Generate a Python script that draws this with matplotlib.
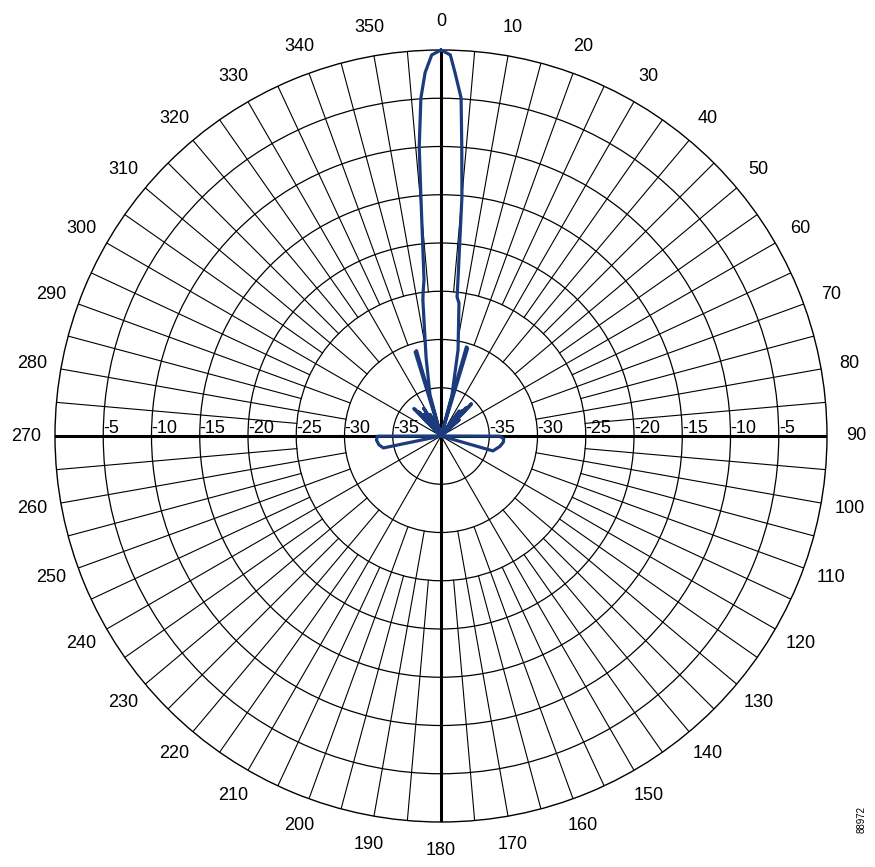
import numpy as np
import matplotlib
matplotlib.use("Agg")
import matplotlib.pyplot as plt

# antenna pattern, compass degrees (clockwise from north) and dB
angles = [0, 1.4, 2.2, 3.4, 4.1, 5.0, 6.2, 6.6, 7.7, 11.2, 15.0, 15.6,
          15.9, 16.9, 17.4,
          35.6, 36.0, 36.6, 37.0, 39.1, 39.4, 40.0, 40.3, 41.1, 41.4, 42.0, 42.3,
          42.9, 43.1, 43.9, 44.2, 47.6, 48.2, 48.8,
          90.0, 90.2, 92.5, 95.5, 100.0, 106.0, 106.5,
          180.0,
          257.8, 258.3, 262.0, 266.4, 269.8, 270.0,
          314.9, 315.1, 315.9, 316.1, 317.0, 317.2, 318.0, 318.2,
          321.5, 322.0, 322.5, 327.5, 327.7, 328.4, 328.6, 332.5, 333.0, 333.5,
          342.6, 342.9, 344.0, 344.5,
          345.0, 349.25, 352.4, 352.9, 353.8, 355.2, 355.7, 356.6, 357.5,
          358.6, 360]
gain_db = [0.0, -0.5, -2.3, -4.9, -9.9, -15.1, -23.7, -25.5, -26.1, -30.9, -35.6, -40,
           -30.4, -30.5, -40,
           -40, -36.8, -36.9, -40, -40, -36.6, -36.7, -40, -40, -36.1, -36.2, -40,
           -40, -35.4, -35.5, -40, -40, -37.5, -40,
           -40, -33.9, -33.5, -33.5, -33.8, -34.4, -40,
           -40,
           -40, -33.9, -33.5, -33.3, -33.4, -40,
           -40, -36.0, -36.1, -40, -40, -36.6, -36.7, -40,
           -40, -37.2, -40, -40, -36.6, -36.7, -40, -40, -37.5, -40,
           -40, -30.9, -30.8, -40,
           -35.6, -31.7, -25.8, -25.0, -23.7, -15.1, -9.9, -4.9, -2.3,
           -0.5, 0.0]

ring_levels = [-35, -30, -25, -20, -15, -10, -5]
angle_labels = [str(a) for a in range(0, 360, 10)]

plt.rcParams['font.family'] = ['Liberation Sans', 'DejaVu Sans']

fig = plt.figure(figsize=(8.75, 8.67), dpi=100)
ax = fig.add_axes([55 / 875, 45 / 867, 772 / 875, 772 / 867], projection='polar')
ax.set_theta_zero_location('N')
ax.set_theta_direction(-1)
ax.set_ylim(-40, 0)

# rings
ax.set_yticks(ring_levels)
ax.set_yticklabels([])
ax.set_xticks([])
ax.yaxis.grid(True, color='black', linewidth=0.9)
ax.spines['polar'].set_linewidth(1.0)
ax.spines['polar'].set_color('black')

# spokes: 30 deg from center, 10 deg from -30 dB, 5 deg from -25 dB
for a in range(0, 360, 5):
    if a % 90 == 0:
        continue
    if a % 30 == 0:
        start = -40
    elif a % 10 == 0:
        start = -30
    else:
        start = -25
    t = np.deg2rad(a)
    ax.plot([t, t], [start, 0], color='black', linewidth=0.8, zorder=2)

# main axes
for a in [0, 90, 180, 270]:
    t = np.deg2rad(a)
    ax.plot([t, t], [-40, 0], color='black', linewidth=2.2, zorder=3)

# pattern
ax.plot(np.deg2rad(angles), gain_db, color='#1b3b7d', linewidth=2.3, zorder=4,
        clip_on=False)

# angle labels
for i, lab in enumerate(angle_labels):
    t = np.deg2rad(i * 10)
    ax.text(t, 3.0, lab, ha='center', va='center', fontsize=13)

# dB labels along horizontal axis
for lev in ring_levels:
    for side in [90, 270]:
        ax.annotate(str(lev), xy=(np.deg2rad(side), lev), xytext=(0, 2.5),
                    textcoords='offset points', ha='left', va='baseline',
                    fontsize=13, zorder=5)

fig.text(0.985, 0.055, '88972', rotation=90, fontsize=7, ha='center', va='center')

fig.savefig('out.png', dpi=100)
